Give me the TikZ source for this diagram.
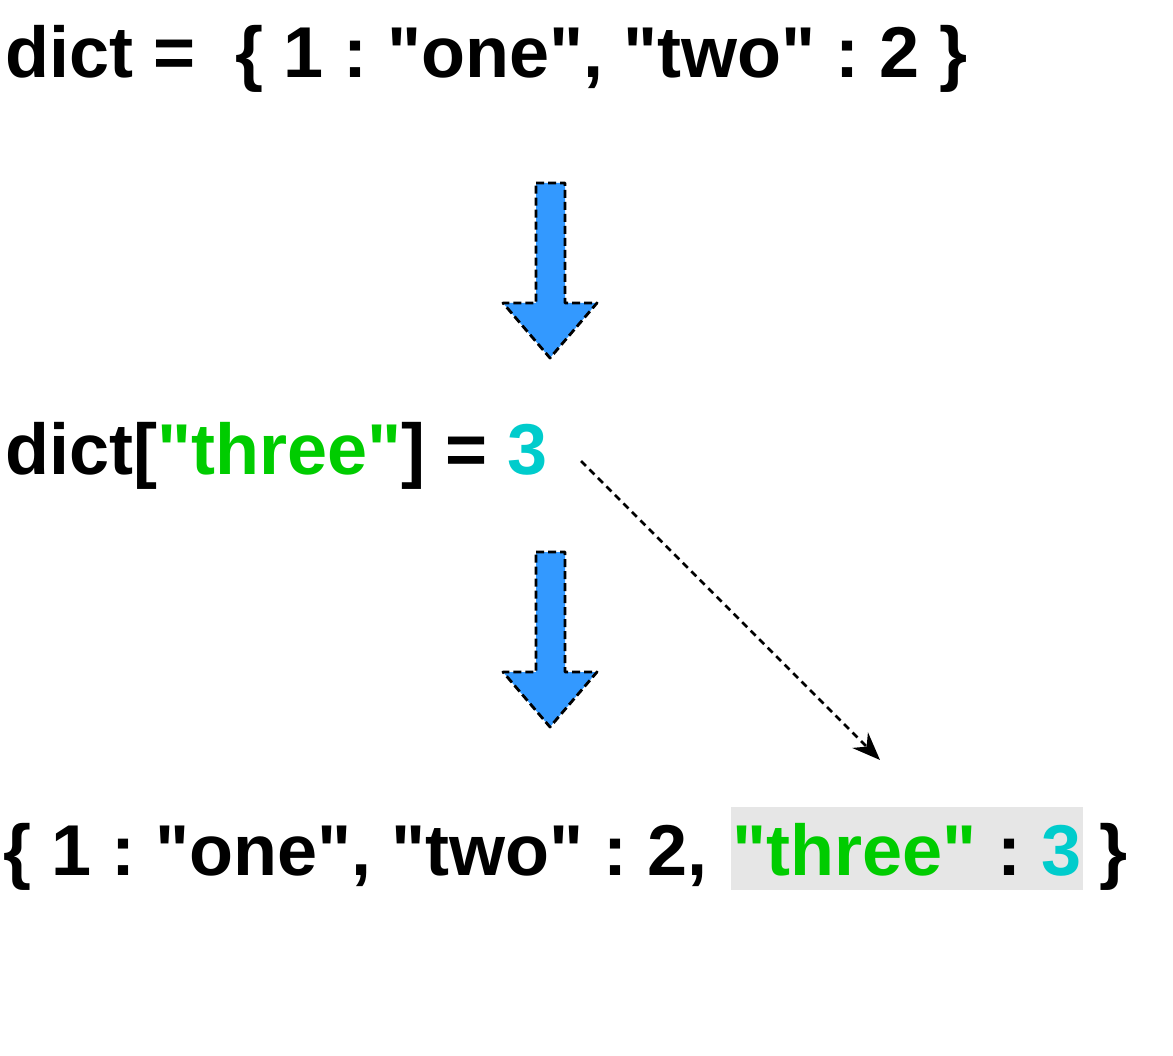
\documentclass[tikz,border=0pt]{standalone}
\usepackage{fontspec}
\setmainfont{Liberation Sans}[Ligatures=TeXOff]
\usepackage{tikz}
\usetikzlibrary{positioning, arrows.meta}
\frenchspacing

\definecolor{keygreen}{RGB}{0,204,0}
\definecolor{valcyan}{RGB}{0,204,204}
\definecolor{arrowblue}{RGB}{51,153,255}
\definecolor{boxgrey}{RGB}{230,230,230}

\tikzset{
    code/.style={font=\fontsize{72}{86}\selectfont\bfseries, inner sep=0pt, anchor=base west},
    blockarrow/.style={fill=arrowblue, draw=black, line width=2.8pt, dash pattern=on 8pt off 4pt, line join=round},
    flowarrow/.style={-{Stealth[length=28pt, width=22pt]}, line width=2.6pt, dash pattern=on 7pt off 5pt}
}

\begin{document}
\begin{tikzpicture}[x=1pt, y=-1pt]
    \useasboundingbox (0,0) rectangle (1173,1056);

    % Original dictionary
    \node[code] (orig) at (5,78) {dict =\ \ \{ 1 : "one", "two" : 2 \}};

    % Assignment
    \node[code] (assign) at (5,475) {dict[\textcolor{keygreen}{"three"}] =};
    \node[code, base right=20pt of assign] (val) {\textcolor{valcyan}{3}};

    % Result
    \node[code] (head) at (3,875) {\{ 1 : "one", "two" : 2,};
    \node[code, fill=boxgrey, inner xsep=1.5pt, text height=68pt, text depth=15pt, base right=23pt of head] (new)
        {\textcolor{keygreen}{"three"} : \textcolor{valcyan}{3}};
    \node[code, base right=17pt of new] (close) {\}};

    % Block arrows
    \foreach \y in {183, 552} {
        \draw[blockarrow] (536,\y) -- (565,\y) -- (565,\y+120) -- (597,\y+120)
            -- (550,\y+175) -- (503,\y+120) -- (536,\y+120) -- cycle;
    }

    % New entry goes into the dictionary
    \coordinate (from) at (581,461);
    \coordinate (to) at (880,760);
    \draw[flowarrow] (from) -- (to);
\end{tikzpicture}
\end{document}
